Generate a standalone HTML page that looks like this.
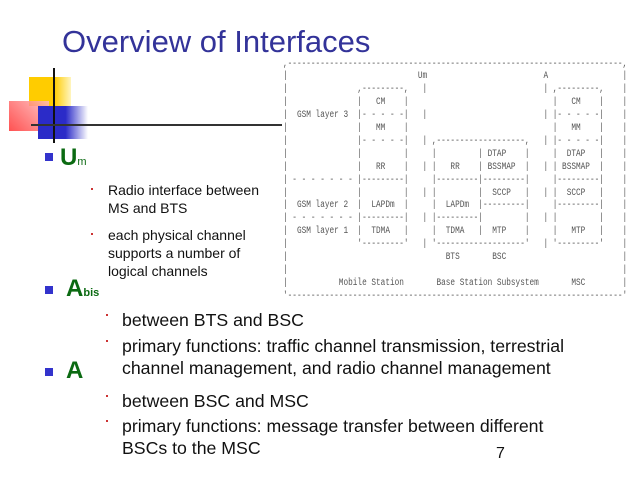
<!DOCTYPE html>
<html><head><style>
body{margin:0;width:638px;height:479px;background:#fff;position:relative;overflow:hidden;font-family:"Liberation Sans",Arial,sans-serif;}
.a{position:absolute;white-space:nowrap;}
.s{font-size:14px;color:#111;line-height:18px;}
.l{font-size:17.7px;color:#111;line-height:22px;}
.dot{position:absolute;width:2px;height:2px;background:#c33;}
.g{color:#0b6a12;font-weight:bold;}
pre{position:absolute;margin:0;left:283px;top:58.5px;font-family:"Liberation Mono",monospace;font-size:10px;line-height:12.9px;color:#555;transform:scaleX(0.775);transform-origin:0 0;}
</style></head><body>
<div class="a" style="left:62px;top:24px;font-size:31px;color:#333399;">Overview of Interfaces</div>
<div class="a" style="left:29px;top:77px;width:42px;height:29px;background:linear-gradient(90deg,#ffcc00 60%,#fff5c0);"></div>
<div class="a" style="left:9px;top:101px;width:40px;height:30px;background:linear-gradient(45deg,#f33,#fbb);opacity:.85"></div>
<div class="a" style="left:38px;top:106px;width:50px;height:33px;background:linear-gradient(90deg,#2b2bc8 55%,rgba(60,60,220,0));"></div>
<div class="a" style="left:53px;top:68px;width:2px;height:75px;background:#111;"></div>
<div class="a" style="left:31px;top:124px;width:251px;height:2px;background:#333;"></div>

<div class="a" style="left:45px;top:153px;width:8px;height:8px;background:#3333cc"></div>
<div class="a g" style="left:60px;top:144px;font-size:24px;">U<span style="font-size:11px;font-weight:normal;">m</span></div>
<div class="dot" style="left:91px;top:188px"></div>
<div class="a s" style="left:108px;top:181px">Radio interface between<br>MS and BTS</div>
<div class="dot" style="left:91px;top:233px"></div>
<div class="a s" style="left:108px;top:226px">each physical channel<br>supports a number of<br>logical channels</div>
<div class="a" style="left:45px;top:286px;width:8px;height:8px;background:#3333cc"></div>
<div class="a g" style="left:66px;top:275px;font-size:24px;">A<span style="font-size:11px;">bis</span></div>

<div class="dot" style="left:106px;top:314px"></div>
<div class="a l" style="left:122px;top:309px">between BTS and BSC</div>
<div class="dot" style="left:106px;top:340px"></div>
<div class="a l" style="left:122px;top:335px">primary functions: traffic channel transmission, terrestrial<br>channel management, and radio channel management</div>
<div class="a" style="left:45px;top:368px;width:8px;height:8px;background:#3333cc"></div>
<div class="a g" style="left:66px;top:357px;font-size:24px;">A</div>
<div class="dot" style="left:106px;top:395px"></div>
<div class="a l" style="left:122px;top:390px">between BSC and MSC</div>
<div class="dot" style="left:106px;top:420px"></div>
<div class="a l" style="left:122px;top:415px">primary functions: message transfer between different<br>BSCs to the MSC</div>
<div class="a" style="left:496px;top:445px;font-size:16px;color:#111">7</div>

<pre>,------------------------------------------------------------------------,
|                            Um                         A                |
|               ,---------,   |                         | ,---------,    |
|               |   CM    |                               |   CM    |    |
|  GSM layer 3  |- - - - -|   |                         | |- - - - -|    |
|               |   MM    |                               |   MM    |    |
|               |- - - - -|   | ,-------------------,   | |- - - - -|    |
|               |         |     |         | DTAP    |     |  DTAP   |    |
|               |   RR    |   | |   RR    | BSSMAP  |   | | BSSMAP  |    |
| - - - - - - - |---------|     |---------|---------|     |---------|    |
|               |         |   | |         |  SCCP   |   | |  SCCP   |    |
|  GSM layer 2  |  LAPDm  |     |  LAPDm  |---------|     |---------|    |
| - - - - - - - |---------|   | |---------|         |   | |         |    |
|  GSM layer 1  |  TDMA   |     |  TDMA   |  MTP    |     |   MTP   |    |
|               '---------'   | '-------------------'   | '---------'    |
|                                  BTS       BSC                         |
|                                                                        |
|           Mobile Station       Base Station Subsystem       MSC        |
'------------------------------------------------------------------------'</pre>
</body></html>
